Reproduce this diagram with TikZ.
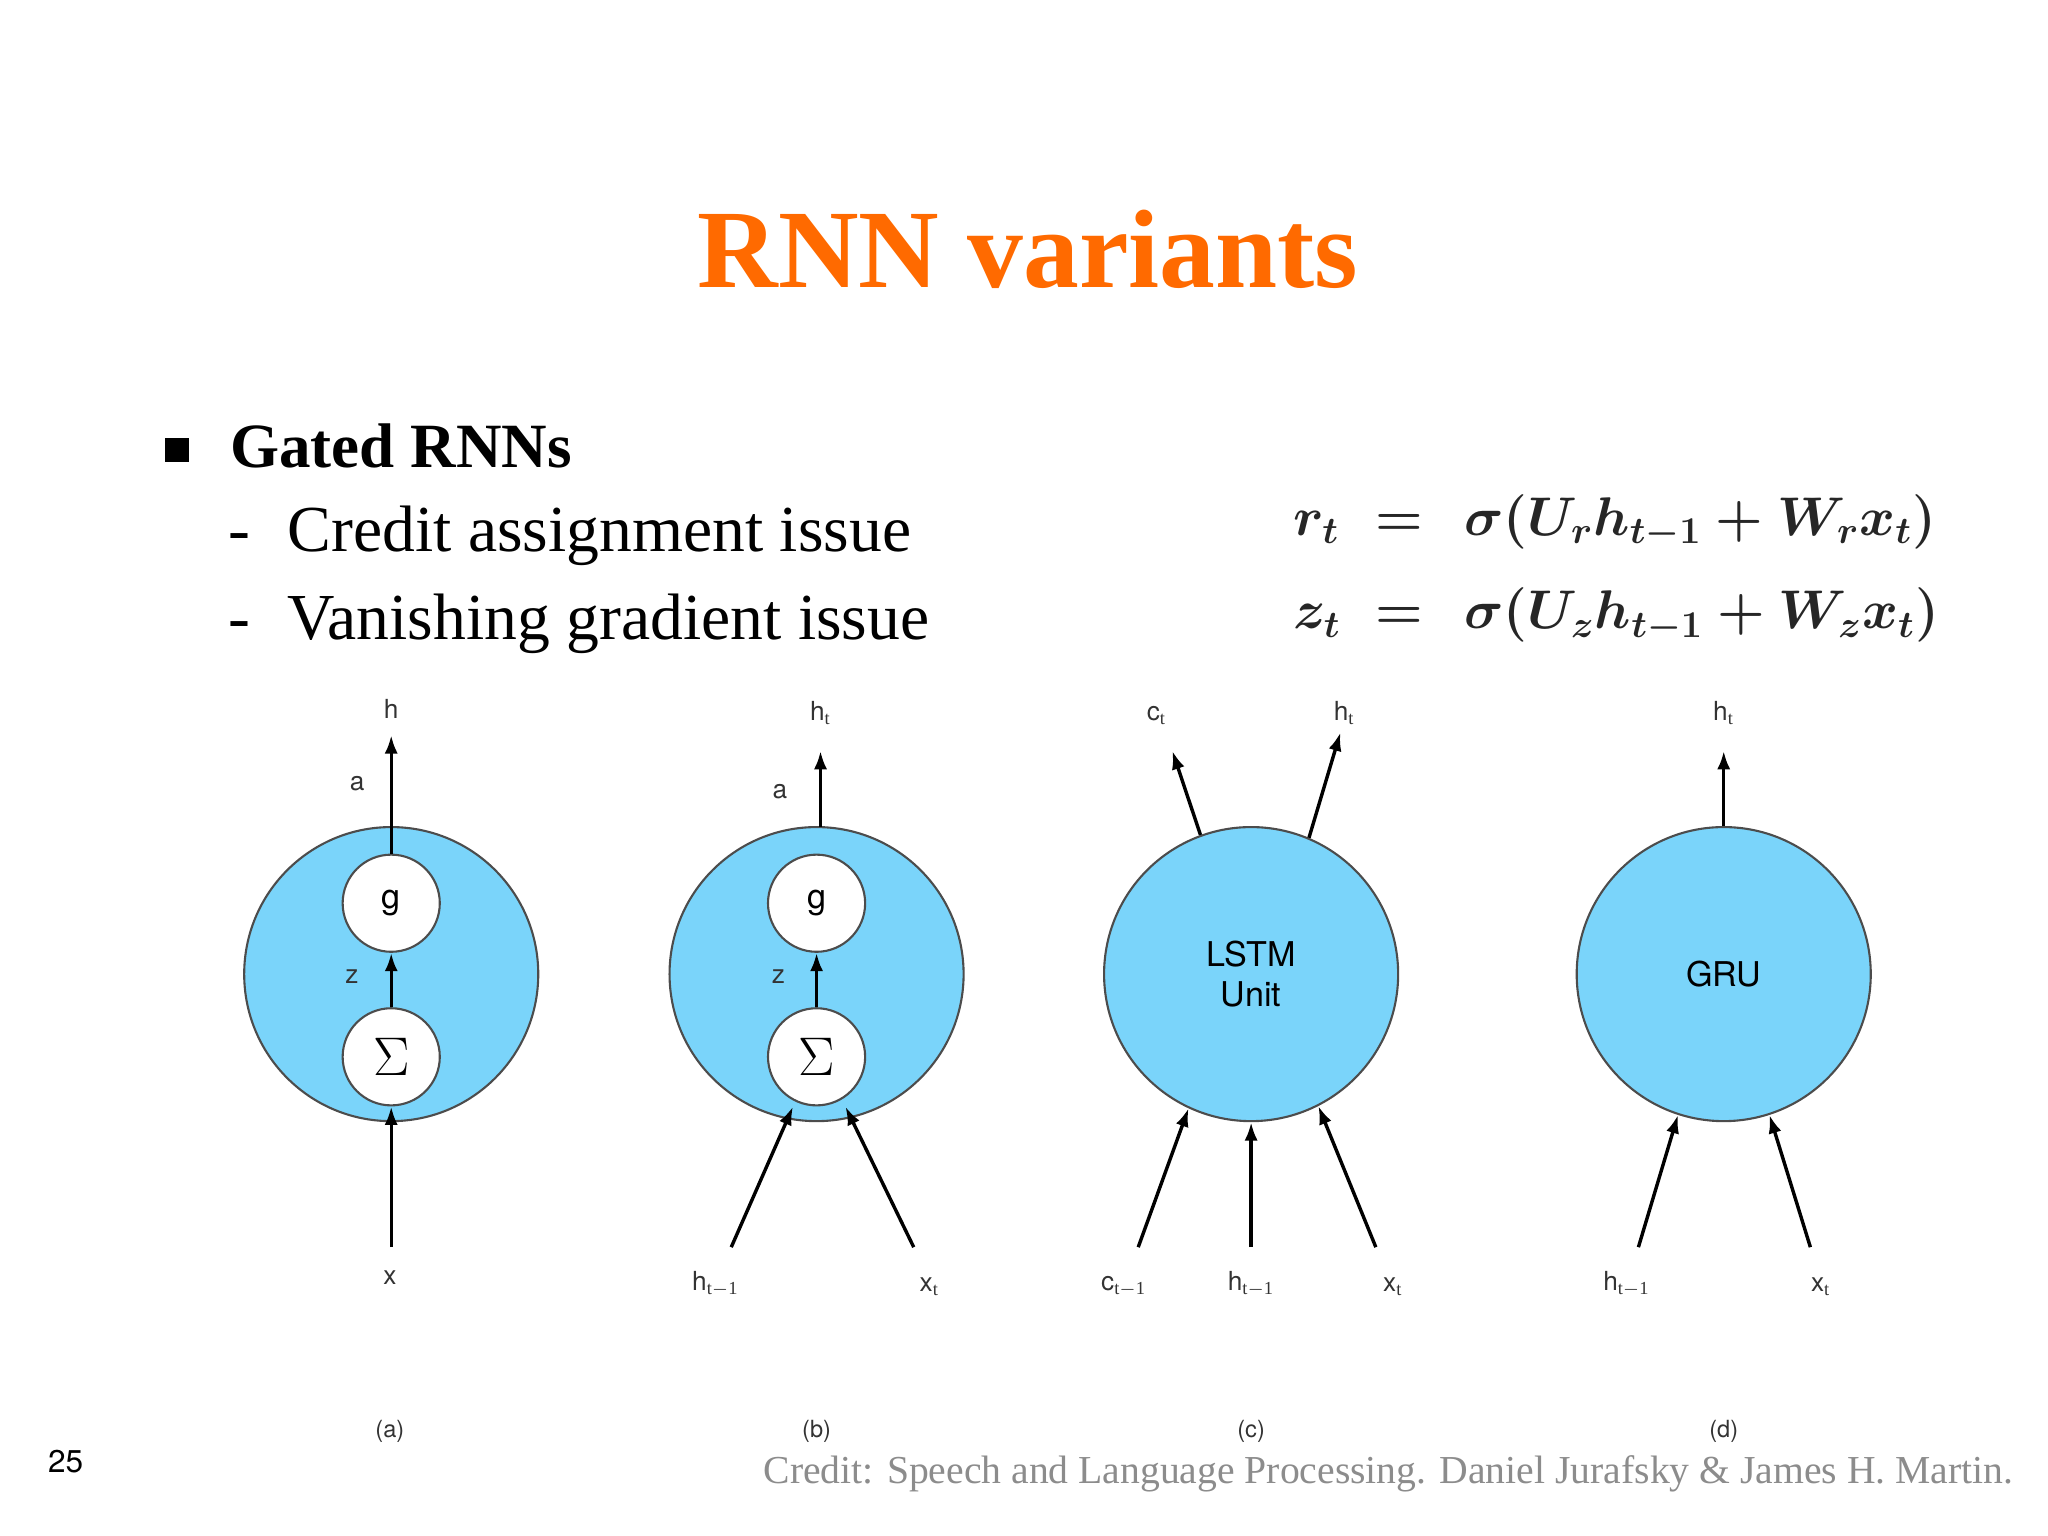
\documentclass[tikz,border=0pt]{standalone}
\usepackage{fontspec}
\setmainfont{Liberation Serif}
\newfontfamily\lab{TeX Gyre Heros}
\usetikzlibrary{arrows.meta}
\definecolor{cellblue}{HTML}{7AD4FA}
\definecolor{ttl}{HTML}{FF6A00}
\begin{document}
\begin{tikzpicture}[x=0.5pt,y=-0.5pt,
  big/.style={circle,draw=black!70,line width=0.8pt,fill=cellblue,minimum size=112pt,inner sep=0},
  small/.style={circle,draw=black!70,line width=0.8pt,fill=white,minimum size=37pt,inner sep=0},
  arr/.style={-{Latex[length=7pt,width=5pt]},line width=1.3pt},
  lb/.style={font=\lab\fontsize{10}{10}\selectfont,text=black!80,inner sep=0},
  eqs/.style={anchor=base west,font=\fontsize{21}{21}\selectfont\boldmath,inner sep=0,text=black!85},
  capt/.style={font=\lab\fontsize{9}{9}\selectfont,text=black!80}]
\useasboundingbox (0,0) rectangle (1560,1170);
\node[text=ttl,font=\bfseries\fontsize{42.5}{42.5}\selectfont] (title) at (783,190) {RNN variants};
\node[fill=black,minimum size=9pt,inner sep=0] (sq) at (135,343) {};
\node[anchor=west,font=\bfseries\fontsize{24}{24}\selectfont,inner sep=0] (g1) at (175,340) {Gated RNNs};
\node[anchor=west,font=\fontsize{25}{25}\selectfont,inner sep=0] (d1) at (174,408) {-\hspace{14pt}Credit assignment issue};
\node[anchor=west,font=\fontsize{25}{25}\selectfont,inner sep=0] (d2) at (174,475) {-\hspace{14pt}Vanishing gradient issue};
\node[eqs] (e1l) at (985,408) {$r_t$};
\node[eqs] (e1m) at (1047,408) {$=$};
\node[eqs] (e1r) at (1115,408) {$\sigma(U_rh_{t-1}+W_rx_t)$};
\node[eqs] (e2l) at (985,479) {$z_t$};
\node[eqs] (e2m) at (1047,479) {$=$};
\node[eqs] (e2r) at (1115,479) {$\sigma(U_zh_{t-1}+W_zx_t)$};
% (a)
\node[big] (A) at (298,742) {};
\node[small,font=\lab\fontsize{13}{13}\selectfont] (Ag) at (298,688) {g};
\node[small,font=\fontsize{20}{20}\selectfont] (As) at (298,805) {$\Sigma$};
\coordinate (Ain) at (298,950); \coordinate (Aout) at (298,560);
\draw[arr] (Ain) -- (As.south);
\draw[arr] (As) -- (Ag);
\draw[arr] (Ag.north) -- (Aout);
\node[lb] (Ah) at (298,540) {h};
\node[lb] (Aa) at (272,597) {a};
\node[lb] (Az) at (268,744) {z};
\node[lb] (Ax) at (297,973) {x};
% (b)
\node[big] (B) at (622,742) {};
\node[small,font=\lab\fontsize{13}{13}\selectfont] (Bg) at (622,688) {g};
\node[small,font=\fontsize{20}{20}\selectfont] (Bs) at (622,805) {$\Sigma$};
\coordinate (Bi1) at (557,950); \coordinate (Bi2) at (696,950); \coordinate (Bout) at (625,572);
\coordinate (Bt1) at (604,843); \coordinate (Bt2) at (644,843);
\coordinate (Bn) at (625,630);
\draw[arr] (Bi1) -- (Bt1);
\draw[arr] (Bi2) -- (Bt2);
\draw[arr] (Bs) -- (Bg);
\draw[arr] (Bn) -- (Bout);
\node[lb] (Bh) at (625,543) {h$_\mathrm{t}$};
\node[lb] (Ba) at (594,603) {a};
\node[lb] (Bz) at (593,744) {z};
\node[lb] (Bhx) at (545,978) {h$_\mathrm{t-1}$};
\node[lb] (Bx) at (708,980) {x$_\mathrm{t}$};
% (c)
\node[big,font=\lab\fontsize{13}{15}\selectfont,align=center] (C) at (953,742) {LSTM\\Unit};
\coordinate (Co1) at (893,572); \coordinate (Co2) at (1021,558);
\draw[arr] (C.110) -- (Co1);
\draw[arr] (C.67) -- (Co2);
\coordinate (Ci1) at (867,950); \coordinate (Ci2) at (953,950); \coordinate (Ci3) at (1048,950);
\draw[arr] (Ci1) -- (C.-115);
\draw[arr] (Ci2) -- (C.south);
\draw[arr] (Ci3) -- (C.-63);
\node[lb] (Cc) at (881,545) {c$_\mathrm{t}$};
\node[lb] (Ch) at (1024,543) {h$_\mathrm{t}$};
\node[lb] (Cc1) at (856,980) {c$_\mathrm{t-1}$};
\node[lb] (Ch1) at (953,978) {h$_\mathrm{t-1}$};
\node[lb] (Cx) at (1061,980) {x$_\mathrm{t}$};
% (d)
\node[big,font=\lab\fontsize{13}{13}\selectfont] (D) at (1313,742) {GRU};
\coordinate (Do) at (1313,572);
\draw[arr] (D.north) -- (Do);
\coordinate (Di1) at (1248,950); \coordinate (Di2) at (1379,950);
\draw[arr] (Di1) -- (D.-108);
\draw[arr] (Di2) -- (D.-72);
\node[lb] (Dh) at (1313,543) {h$_\mathrm{t}$};
\node[lb] (Dh1) at (1239,978) {h$_\mathrm{t-1}$};
\node[lb] (Dx) at (1387,980) {x$_\mathrm{t}$};
% captions
\node[capt] (ca) at (297,1090) {(a)};
\node[capt] (cb) at (622,1090) {(b)};
\node[capt] (cc) at (953,1090) {(c)};
\node[capt] (cd) at (1313,1090) {(d)};
\node[font=\lab\fontsize{12}{12}\selectfont] (pg) at (50,1113) {25};
\node[anchor=east,text=black!45,font=\fontsize{15.1}{15.1}\selectfont,inner sep=0] (cr) at (1534,1123) {Credit: Speech and Language Processing. Daniel Jurafsky \& James H. Martin.};
\end{tikzpicture}
\end{document}
